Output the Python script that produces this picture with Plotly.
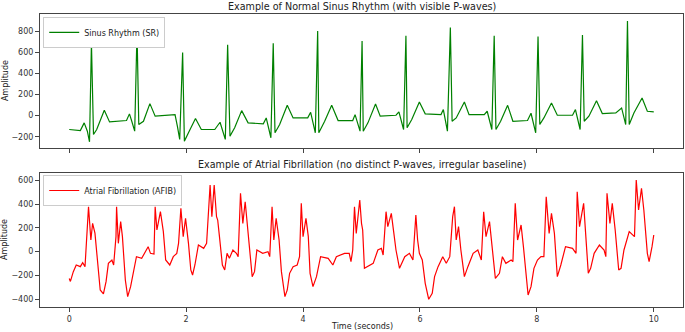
import plotly.graph_objects as go

# ---- Sinus rhythm (time in s, amplitude), beat by beat ----
sr_t = [0.00, 0.19, 0.256, 0.31, 0.347, 0.38, 0.415, 0.47, 0.60, 0.69,
        0.98, 1.03, 1.07, 1.12, 1.16, 1.19, 1.27, 1.38, 1.47,
        1.81, 1.85, 1.89, 1.94, 1.97, 2.04, 2.16, 2.26,
        2.49, 2.58, 2.67, 2.71, 2.75, 2.83, 2.95, 3.06,
        3.32, 3.37, 3.45, 3.49, 3.52, 3.60, 3.73, 3.83,
        4.08, 4.13, 4.21, 4.25, 4.27, 4.37, 4.49, 4.60,
        4.85, 4.89, 4.975, 5.01, 5.03, 5.11, 5.24, 5.32,
        5.59, 5.64, 5.72, 5.76, 5.78, 5.86, 5.99, 6.09,
        6.36, 6.40, 6.47, 6.52, 6.55, 6.62, 6.76, 6.84,
        7.10, 7.15, 7.23, 7.27, 7.30, 7.38, 7.50, 7.59,
        7.84, 7.90, 7.98, 8.02, 8.05, 8.12, 8.25, 8.35,
        8.61, 8.66, 8.74, 8.78, 8.81, 8.89, 9.02, 9.12,
        9.35, 9.45, 9.52, 9.55, 9.58, 9.66, 9.80, 9.89, 10.0]
sr_v = [-132, -142, -69, -148, -248, 686, -179, -132, 50, -60,
        -47, 16, -54, -148, 795, -85, -54, 113, -6,
        9, -100, -226, 597, -242, -163, -28, -132,
        -132, -63, -226, 670, -195, -116, 47, -69,
        -78, -22, -210, 686, -163, -85, 97, -22,
        -22, 31, -163, 801, -163, -54, 97, -47,
        -47, 9, -148, 707, -148, -69, 110, -6,
        3, 35, -132, 757, -116, -38, 129, 16,
        9, 57, -148, 833, -54, -22, 129, 9,
        9, 41, -132, 757, -132, -54, 97, -54,
        -47, 22, -163, 748, -85, -22, 120, 3,
        3, 57, -132, 764, -54, -6, 141, 19,
        25, 72, -85, 896, -85, 25, 167, 41, 35]

# ---- Atrial fibrillation ----
af_t = [0.00, 0.02, 0.07, 0.12, 0.19, 0.23, 0.27, 0.29, 0.33, 0.37, 0.40, 0.44,
        0.48, 0.53, 0.585, 0.63, 0.67, 0.73, 0.76, 0.80, 0.81, 0.84, 0.88, 0.91,
        0.96, 1.00, 1.05, 1.10, 1.15, 1.24, 1.31, 1.35, 1.39, 1.45, 1.47, 1.50,
        1.56, 1.61, 1.65, 1.72, 1.78, 1.84, 1.87, 1.91, 1.95, 1.99, 2.04, 2.08,
        2.11, 2.15, 2.21, 2.30, 2.35, 2.41, 2.44, 2.48, 2.52, 2.54, 2.57, 2.62,
        2.66, 2.70, 2.74, 2.80, 2.86, 2.89, 2.93, 2.97, 3.01, 3.04, 3.09, 3.13,
        3.17, 3.21, 3.31, 3.40, 3.43, 3.47, 3.50, 3.54, 3.59, 3.63, 3.69, 3.73,
        3.77, 3.83, 3.90, 3.94, 3.97, 4.00, 4.05, 4.09, 4.12, 4.17, 4.23, 4.30,
        4.43, 4.51, 4.57, 4.71, 4.79, 4.82, 4.85, 4.88, 4.91, 4.97, 5.00, 5.02,
        5.05, 5.11, 5.20, 5.28, 5.34, 5.37, 5.42, 5.45, 5.51, 5.55, 5.59, 5.65,
        5.74, 5.82, 5.88, 5.93, 5.96, 5.99, 6.04, 6.09, 6.15, 6.21, 6.25, 6.31,
        6.39, 6.45, 6.51, 6.56, 6.59, 6.62, 6.66, 6.70, 6.76, 6.82, 6.91, 6.99,
        7.05, 7.09, 7.13, 7.19, 7.23, 7.29, 7.36, 7.41, 7.47, 7.56, 7.59, 7.63,
        7.67, 7.73, 7.77, 7.81, 7.85, 7.90, 7.95, 8.01, 8.07, 8.12, 8.16, 8.21,
        8.25, 8.30, 8.35, 8.41, 8.49, 8.61, 8.67, 8.69, 8.73, 8.80, 8.84, 8.88,
        8.92, 8.98, 9.07, 9.15, 9.18, 9.20, 9.25, 9.29, 9.34, 9.40, 9.44, 9.49,
        9.58, 9.67, 9.70, 9.74, 9.79, 9.83, 9.89, 9.92, 9.97, 10.0]
af_v = [-225, -250, -168, -112, -126, -92, -126, 42, 378, 98, 238, 155,
        -70, -322, -355, -252, -98, -70, -112, 126, 378, 70, 252, 126,
        -238, -378, -294, -168, -42, -56, 0, 42, -14, -20, 378, 182,
        336, 168, -70, -112, -42, -14, 70, 364, 126, 280, 70, -154,
        -196, -112, 56, 28, 70, 560, 294, 560, 294, 266, 126, -112,
        -154, -14, -56, 14, -14, -42, 490, 238, 420, 252, 14, -210,
        -168, 14, -14, 0, -42, 378, 98, 280, 98, -168, -378, -322,
        -182, -126, -112, -42, 406, 126, 280, 126, -182, -294, -210, -42,
        -56, -112, -42, -14, -14, -84, 14, 378, 154, 434, 238, 182,
        -140, -126, -98, 14, 28, -28, 336, 210, 322, 168, 14, -140,
        -42, -14, -70, 308, 98, -14, -70, -266, -400, -350, -210, -126,
        -42, -98, -42, 294, 378, 98, 210, 14, -210, -126, -14, 14,
        -70, 336, 126, 252, 70, -224, -182, -42, -98, -70, -84, 406,
        98, 224, 42, -182, -364, -294, -140, -70, -42, -42, 462, 154,
        322, 154, -210, -112, 42, 28, -14, 504, 210, 406, 126, -182,
        -140, -14, 56, 14, -42, 490, 238, 406, 182, -154, -140, 14,
        168, 126, 602, 350, 532, 350, -14, -84, 42, 140]

x_ticks = [0, 2, 4, 6, 8, 10]
sr_yticks = [-200, 0, 200, 400, 600, 800]
af_yticks = [-400, -200, 0, 200, 400, 600]

title_top = "Example of Normal Sinus Rhythm (with visible P-waves)"
title_bottom = "Example of Atrial Fibrillation (no distinct P-waves, irregular baseline)"

FONT = "DejaVu Sans"
AX = "#444444"

fig = go.Figure()
fig.add_trace(go.Scatter(x=sr_t, y=sr_v, mode="lines", name="Sinus Rhythm (SR)",
                         line=dict(color="green", width=1.2), xaxis="x", yaxis="y",
                         legend="legend", showlegend=True))
fig.add_trace(go.Scatter(x=af_t, y=af_v, mode="lines", name="Atrial Fibrillation (AFIB)",
                         line=dict(color="red", width=1.2), xaxis="x2", yaxis="y2",
                         legend="legend2", showlegend=True))

axis_common = dict(showline=True, mirror=True, linecolor=AX, linewidth=1,
                   ticks="outside", ticklen=4, tickcolor=AX, showgrid=False,
                   zeroline=False, tickfont=dict(family=FONT, size=8, color="#333"))

fig.update_layout(
    width=685, height=332,
    showlegend=True,
    margin=dict(l=40, r=2, t=14, b=25),
    plot_bgcolor="white", paper_bgcolor="white",
    font=dict(family=FONT, size=8, color="#222"),
    xaxis=dict(domain=[0, 1], anchor="y", range=[-0.5, 10.5], tickvals=x_ticks,
               showticklabels=False, **axis_common),
    yaxis=dict(domain=[0.5427, 1], anchor="x", range=[-307, 962], tickvals=sr_yticks,
               **axis_common),
    xaxis2=dict(domain=[0, 1], anchor="y2", range=[-0.5, 10.5], tickvals=x_ticks,
                **axis_common),
    yaxis2=dict(domain=[0, 0.4573], anchor="x2", range=[-465, 661], tickvals=af_yticks,
                **axis_common),
    legend=dict(x=0.005, y=0.99, xanchor="left", yanchor="top", bgcolor="white",
                bordercolor="#cccccc", borderwidth=1, font=dict(family=FONT, size=8),
                itemwidth=30, tracegroupgap=0, visible=True),
    legend2=dict(x=0.005, y=0.4505, xanchor="left", yanchor="top", bgcolor="white",
                 bordercolor="#cccccc", borderwidth=1, font=dict(family=FONT, size=8),
                 itemwidth=30, tracegroupgap=0, visible=True),
    annotations=[
        dict(text=title_top, x=0.5, y=1.027, xref="paper", yref="paper",
             showarrow=False, xanchor="center", yanchor="middle",
             font=dict(family=FONT, size=9.6, color="#222")),
        dict(text=title_bottom, x=0.5, y=0.488, xref="paper", yref="paper",
             showarrow=False, xanchor="center", yanchor="middle",
             font=dict(family=FONT, size=9.6, color="#222")),
        dict(text="Time (seconds)", x=0.5, y=-0.068, xref="paper", yref="paper",
             showarrow=False, xanchor="center", yanchor="middle",
             font=dict(family=FONT, size=8, color="#222")),
        dict(text="Amplitude", x=-0.0544, y=0.771, xref="paper", yref="paper",
             showarrow=False, textangle=-90, xanchor="center", yanchor="middle",
             font=dict(family=FONT, size=8, color="#222")),
        dict(text="Amplitude", x=-0.0544, y=0.2287, xref="paper", yref="paper",
             showarrow=False, textangle=-90, xanchor="center", yanchor="middle",
             font=dict(family=FONT, size=8, color="#222")),
    ],
)

fig.write_html("out.html",
               config={"displayModeBar": False},
               post_script="document.body.style.margin='0px';"
                           "document.body.style.overflow='hidden';")
